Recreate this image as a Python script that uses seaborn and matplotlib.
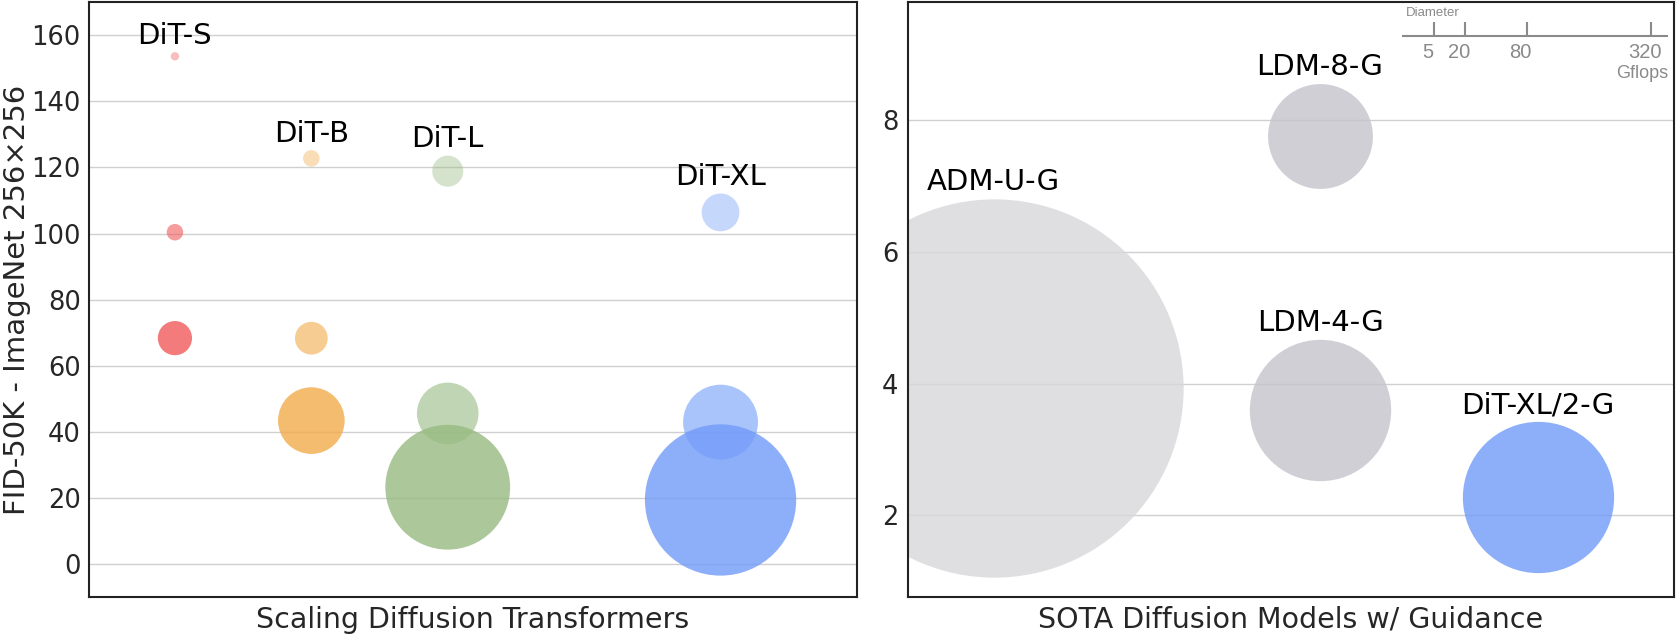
import numpy as np
import pandas as pd
import matplotlib
matplotlib.use("Agg")
import matplotlib.pyplot as plt
import matplotlib.transforms as mtransforms
import seaborn as sns

# Data: DiT scaling (FID-50K at 400K steps) and SOTA guided models
dit_models = ["DiT-S", "DiT-B", "DiT-L", "DiT-XL"]
patch_sizes = ["/8", "/4", "/2"]
dit_x = [1, 2, 3, 5]
gflops_s = [0.36, 1.41, 6.06]
gflops_b = [1.42, 5.56, 23.01]
gflops_l = [5.01, 19.70, 80.71]
gflops_xl = [7.39, 29.05, 118.64]
fid_s = [153.60, 100.41, 68.40]
fid_b = [122.74, 68.38, 43.47]
fid_l = [118.87, 45.64, 23.33]
fid_xl = [106.41, 43.01, 19.47]

sota_models = ["ADM-U-G", "LDM-8-G", "LDM-4-G", "DiT-XL/2-G"]
sota_x = [1, 3.4, 3.4, 5]
sota_gflops = [742, 57, 103.6, 118.64]
sota_fid = [3.94, 7.76, 3.60, 2.27]

legend_ticks = [5, 20, 80, 320]

dit_colors = {"DiT-S": "#F05A5A", "DiT-B": "#F2AB4A", "DiT-L": "#97BA81", "DiT-XL": "#719BF9"}
patch_alpha = {"/8": 0.4, "/4": 0.6, "/2": 0.8}
sota_colors = {"ADM-U-G": "#D8D8DB", "LDM-8-G": "#C4C4CB", "LDM-4-G": "#C4C4CB", "DiT-XL/2-G": "#719BF9"}

G_MAX = 800  # marker area = 100 * Gflops (points^2)

rows = []
for m, x, gf, fd in zip(dit_models, dit_x,
                        [gflops_s, gflops_b, gflops_l, gflops_xl],
                        [fid_s, fid_b, fid_l, fid_xl]):
    for p, g, f in zip(patch_sizes, gf, fd):
        rows.append({"model": m, "patch": p, "x": x, "gflops": g, "fid": f})
dit = pd.DataFrame(rows)
sota = pd.DataFrame({"model": sota_models, "x": sota_x, "gflops": sota_gflops, "fid": sota_fid})

sns.set_style("whitegrid")
plt.rcParams["font.family"] = ["DejaVu Sans"]

fig = plt.figure(figsize=(16.79, 6.34), dpi=100)
ax1 = fig.add_axes([0.0530, 0.0576, 0.4574, 0.9392])
ax2 = fig.add_axes([0.5408, 0.0576, 0.4560, 0.9392])

size_kw = dict(size="gflops", sizes=(0, 100 * G_MAX), size_norm=(0, G_MAX),
               linewidth=0, legend=False)

for p in patch_sizes:
    sub = dit[dit["patch"] == p]
    sns.scatterplot(data=sub, x="x", y="fid", hue="model", palette=dit_colors,
                    alpha=patch_alpha[p], ax=ax1, **size_kw)

for m in sota_models:
    sub = sota[sota["model"] == m]
    sns.scatterplot(data=sub, x="x", y="fid", hue="model", palette=sota_colors,
                    alpha=0.8, ax=ax2, **size_kw)


def label_bubble(ax, name, x, y, g):
    r_pt = 5 * np.sqrt(g)
    ax.annotate(name, xy=(x, y), xytext=(0, r_pt + 6), textcoords="offset points",
                ha="center", va="baseline", fontsize=21, color="black")


for m in dit_models:
    top = dit[(dit["model"] == m) & (dit["patch"] == "/8")].iloc[0]
    label_bubble(ax1, m, top["x"], top["fid"], top["gflops"])
for _, r in sota.iterrows():
    label_bubble(ax2, r["model"], r["x"], r["fid"], r["gflops"])

ax1.set_xlim(0.37, 6.0)
ax1.set_ylim(-10, 170)
ax1.set_yticks(range(0, 161, 20))
ax2.set_xlim(0.37, 6.0)
ax2.set_ylim(0.75, 9.8)
ax2.set_yticks([2, 4, 6, 8])

for ax, xl in [(ax1, "Scaling Diffusion Transformers"), (ax2, "SOTA Diffusion Models w/ Guidance")]:
    ax.set_xticks([])
    ax.set_xlabel(xl, fontsize=20.5, labelpad=6)
    ax.set_ylabel("")
    ax.grid(axis="x", visible=False)
    ax.grid(axis="y", color="#d0d0d0", linewidth=1)
    ax.tick_params(axis="y", labelsize=18.5, length=0, pad=6)
    for s in ax.spines.values():
        s.set_color("#222222")
        s.set_linewidth(1.5)
ax2.tick_params(axis="y", pad=7)
ax1.set_ylabel("FID-50K - ImageNet 256×256", fontsize=21, labelpad=0)

# diameter legend (diameter grows with sqrt of Gflops)
leg = fig.add_axes([1402.7 / 1679, 1 - 36 / 634, 264.3 / 1679, 0.03])
leg.set_facecolor("none")
leg.grid(False)
leg.set_xscale("function", functions=(np.sqrt, np.square))
leg.set_xlim(0, 363)
leg.set_yticks([])
for side in ["left", "right", "top"]:
    leg.spines[side].set_visible(False)
leg.spines["bottom"].set_color("#8a8a8a")
leg.spines["bottom"].set_linewidth(1.5)
leg.set_xticks(legend_ticks)
leg.set_xticklabels([str(t) for t in legend_ticks], family=["Liberation Sans"])
leg.tick_params(axis="x", bottom=True, direction="in", length=10, width=1.5,
                color="#8a8a8a", labelcolor="#8a8a8a", labelsize=14.5, pad=5)
leg.xaxis.set_minor_locator(plt.NullLocator())
shift = mtransforms.ScaledTranslation(-6 / 100, 0, fig.dpi_scale_trans)
for lab in leg.get_xticklabels():
    lab.set_transform(lab.get_transform() + shift)
fig.text(1406 / 1679, 1 - 16 / 634, "Diameter", fontsize=9.5, color="#8a8a8a",
         family=["Liberation Sans"], va="baseline", ha="left")
fig.text(1668 / 1679, 1 - 78 / 634, "Gflops", fontsize=13, color="#8a8a8a",
         family=["Liberation Sans"], va="baseline", ha="right")

fig.savefig("out.png", dpi=100)
